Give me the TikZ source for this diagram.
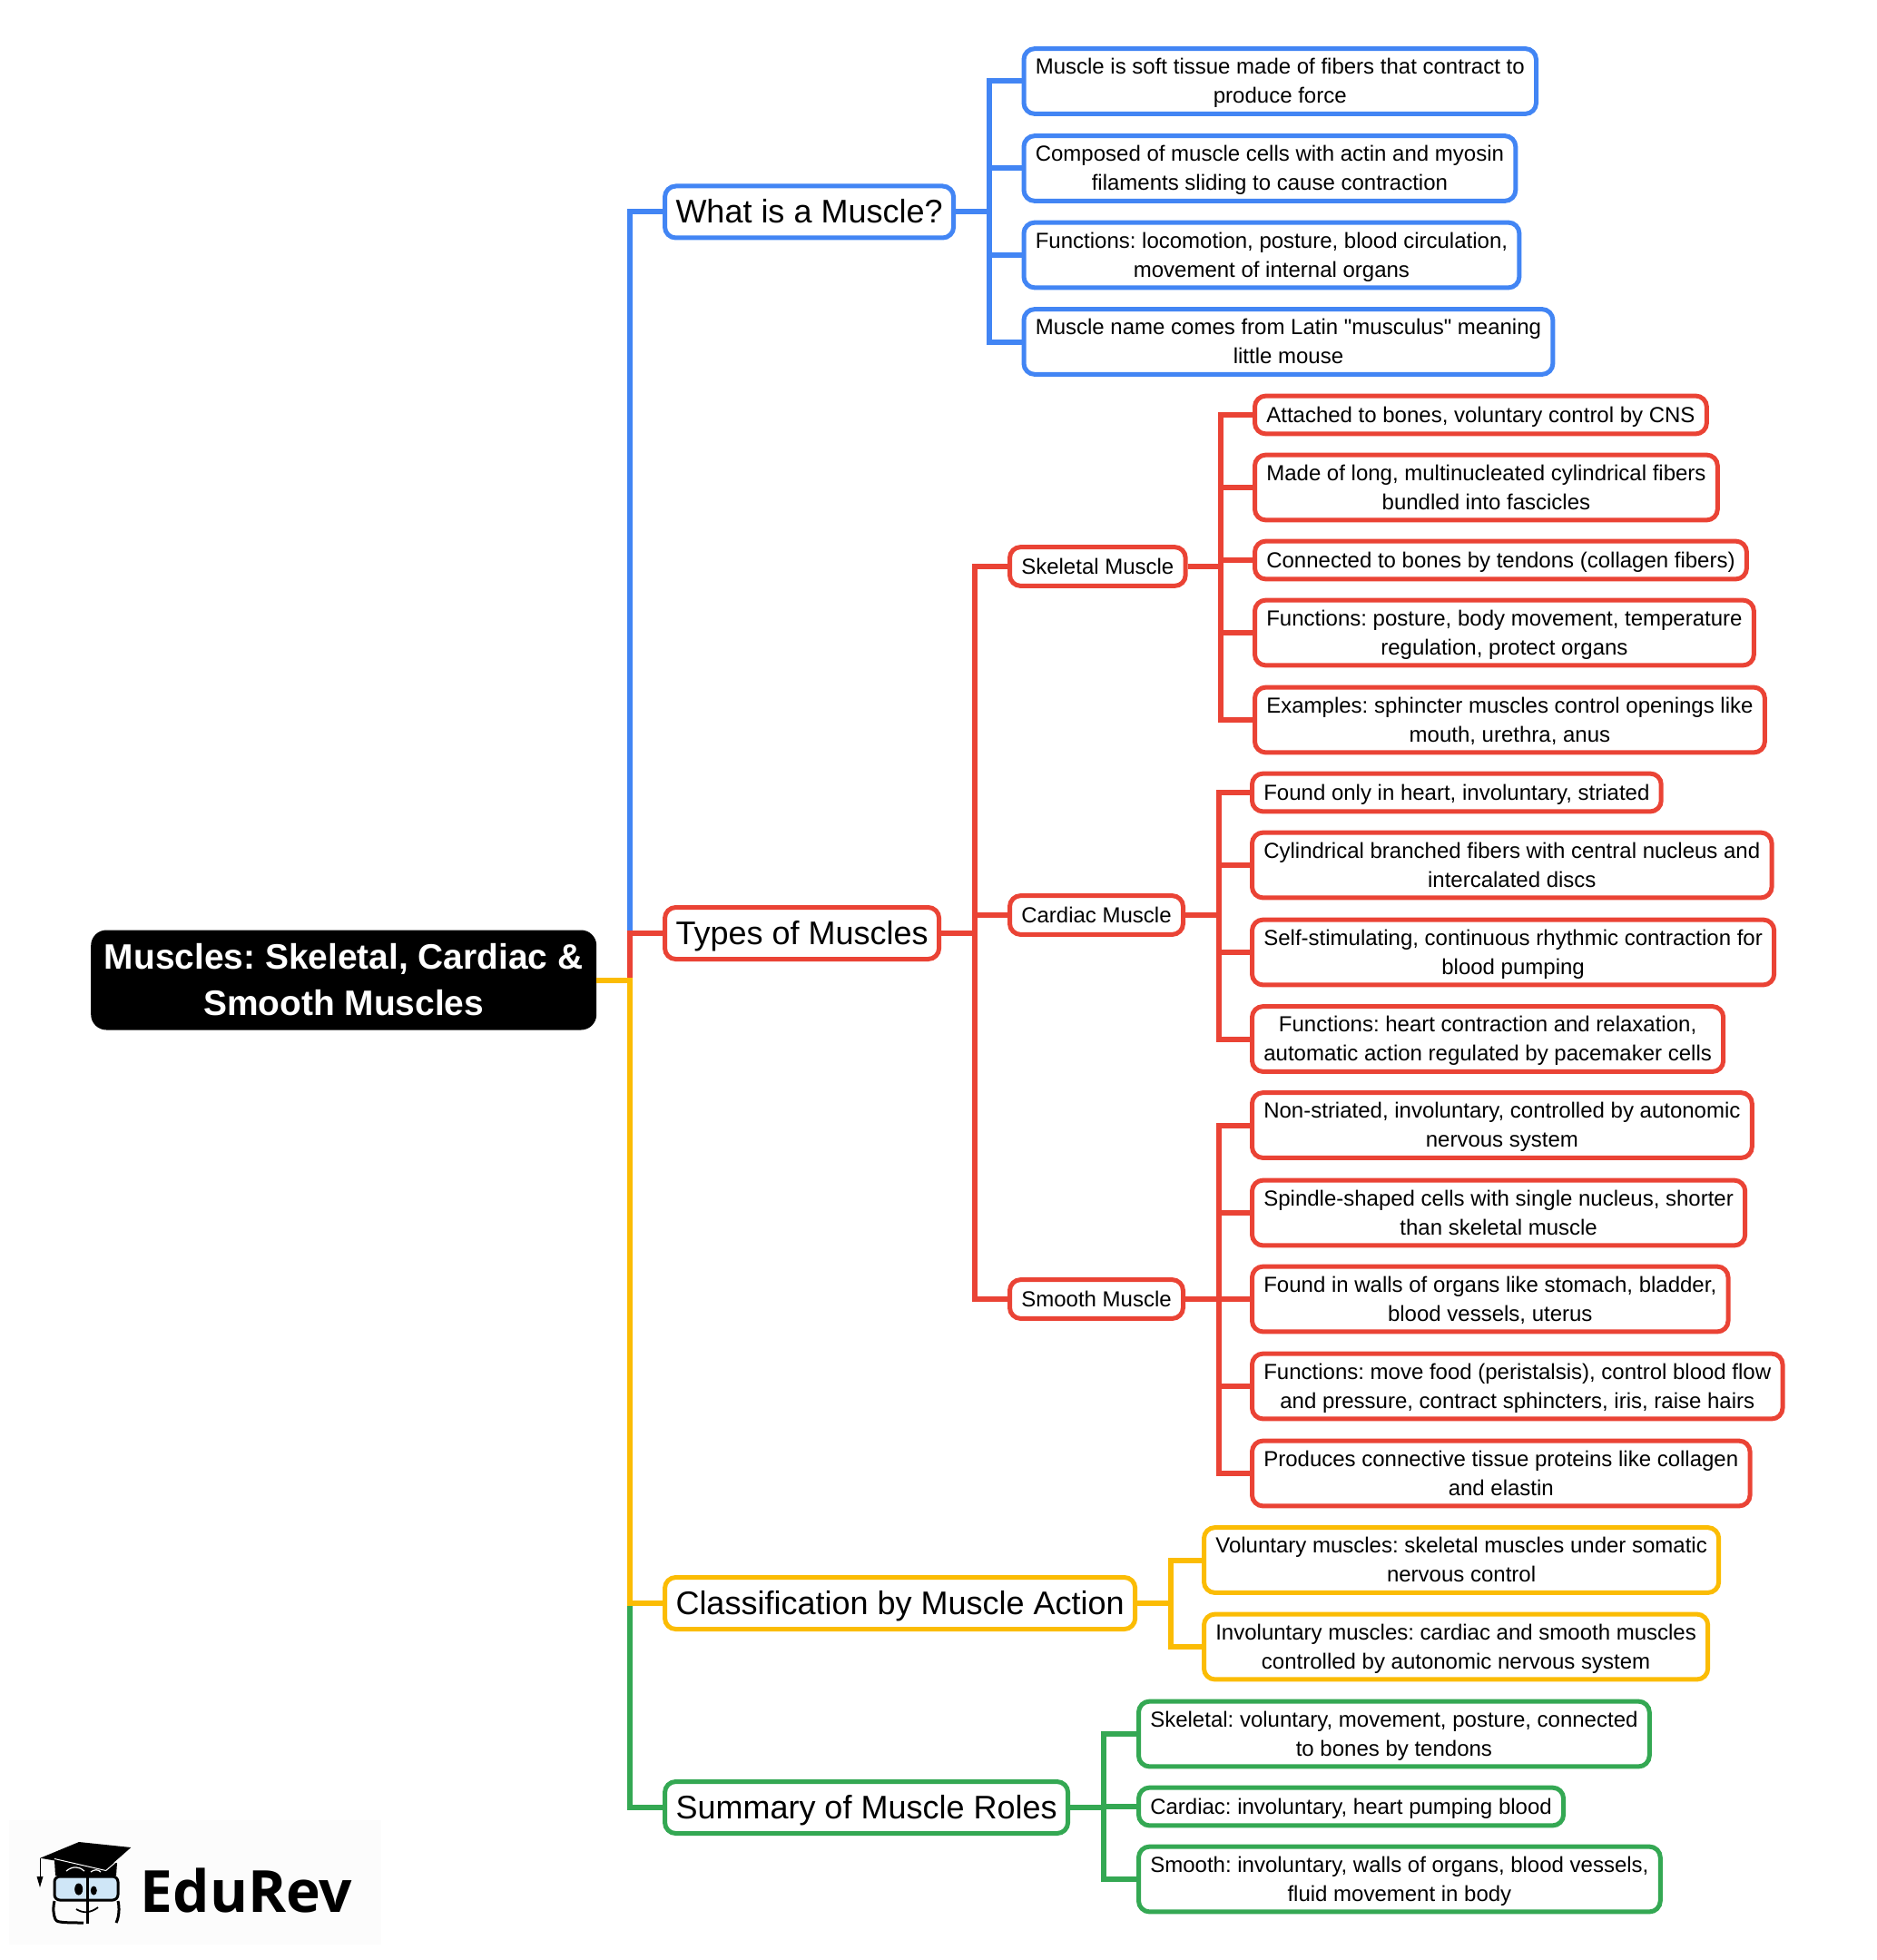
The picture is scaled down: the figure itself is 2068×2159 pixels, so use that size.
\documentclass[tikz,border=0pt]{standalone}
\usepackage{fontspec}
\setmainfont{Liberation Sans}[Ligatures=TeXOff]
\newfontfamily\logofont{Open Sans}
\usetikzlibrary{positioning}
\definecolor{mapblue}{HTML}{4285F4}
\definecolor{mapred}{HTML}{EA4335}
\definecolor{mapyellow}{HTML}{FBBC04}
\definecolor{mapgreen}{HTML}{34A853}
\definecolor{lens}{HTML}{CFE6F7}
\frenchspacing

\begin{document}
\begin{tikzpicture}[
    x=1pt,
    y=-1pt,
    box/.style={line width=5pt, rounded corners=12pt, fill=white, text=black, align=center, anchor=west},
    leaf/.style={box, font=\fontsize{24}{32}\selectfont, inner xsep=12.8pt, inner ysep=6pt, text height=54pt, text depth=5.8pt},
    oneline/.style={leaf, inner ysep=7pt, text height=22pt},
    small/.style={leaf, inner ysep=7.5pt, text height=22pt},
    branch/.style={box, font=\fontsize{36}{44}\selectfont, inner xsep=12pt, inner ysep=6pt, text height=34.6pt, text depth=10.4pt},
    elbow/.style={to path={-- ++(36.5,0) |- (\tikztotarget)}},
    link/.style={line width=6pt}
]
    \useasboundingbox (0,0) rectangle (2068,2159);
    \fill[black!1] (10,2005) rectangle (420,2142);

    \node[anchor=west, fill=black, rounded corners=17pt, text=white, align=center, font=\fontsize{38.9}{51}\selectfont\bfseries, minimum width=557pt, minimum height=110pt, inner sep=0pt] (root) at (100,1079.5) {Muscles: Skeletal, Cardiac \&\\Smooth Muscles};

    \node[branch, draw=mapblue] (what) at (730,233.5) {What is a Muscle?};
    \node[branch, draw=mapred] (types) at (730,1028) {Types of Muscles};
    \node[branch, draw=mapyellow] (class) at (730,1766) {Classification by Muscle Action};
    \node[branch, draw=mapgreen] (summary) at (730,1991) {Summary of Muscle Roles};

    \node[leaf, draw=mapblue] (w1) at (1125.5,89.5) {Muscle is soft tissue made of fibers that contract to\\produce force};
    \node[leaf, draw=mapblue] (w2) at (1125.5,185.5) {Composed of muscle cells with actin and myosin\\filaments sliding to cause contraction};
    \node[leaf, draw=mapblue] (w3) at (1125.5,281) {Functions: locomotion, posture, blood circulation,\\movement of internal organs};
    \node[leaf, draw=mapblue] (w4) at (1125.5,376.5) {Muscle name comes from Latin "musculus" meaning\\little mouse};

    \node[small, draw=mapred] (skeletal) at (1110,624) {Skeletal Muscle};
    \node[small, draw=mapred] (cardiac) at (1110,1008) {Cardiac Muscle};
    \node[small, draw=mapred] (smooth) at (1110,1431) {Smooth Muscle};

    \node[oneline, draw=mapred] (s1) at (1380,457) {Attached to bones, voluntary control by CNS};
    \node[leaf, draw=mapred] (s2) at (1380,537) {Made of long, multinucleated cylindrical fibers\\bundled into fascicles};
    \node[oneline, draw=mapred] (s3) at (1380,617) {Connected to bones by tendons (collagen fibers)};
    \node[leaf, draw=mapred] (s4) at (1380,697) {Functions: posture, body movement, temperature\\regulation, protect organs};
    \node[leaf, draw=mapred] (s5) at (1380,793) {Examples: sphincter muscles control openings like\\mouth, urethra, anus};

    \node[oneline, draw=mapred] (c1) at (1377,873) {Found only in heart, involuntary, striated};
    \node[leaf, draw=mapred] (c2) at (1377,953) {Cylindrical branched fibers with central nucleus and\\intercalated discs};
    \node[leaf, draw=mapred] (c3) at (1377,1049) {Self-stimulating, continuous rhythmic contraction for\\blood pumping};
    \node[leaf, draw=mapred] (c4) at (1377,1144.5) {Functions: heart contraction and relaxation,\\automatic action regulated by pacemaker cells};

    \node[leaf, draw=mapred] (m1) at (1377,1239.5) {Non-striated, involuntary, controlled by autonomic\\nervous system};
    \node[leaf, draw=mapred] (m2) at (1377,1336) {Spindle-shaped cells with single nucleus, shorter\\than skeletal muscle};
    \node[leaf, draw=mapred] (m3) at (1377,1431) {Found in walls of organs like stomach, bladder,\\blood vessels, uterus};
    \node[leaf, draw=mapred] (m4) at (1377,1527) {Functions: move food (peristalsis), control blood flow\\and pressure, contract sphincters, iris, raise hairs};
    \node[leaf, draw=mapred] (m5) at (1377,1623) {Produces connective tissue proteins like collagen\\and elastin};

    \node[leaf, draw=mapyellow] (a1) at (1324,1718.5) {Voluntary muscles: skeletal muscles under somatic\\nervous control};
    \node[leaf, draw=mapyellow] (a2) at (1324,1814) {Involuntary muscles: cardiac and smooth muscles\\controlled by autonomic nervous system};

    \node[leaf, draw=mapgreen] (b1) at (1252,1910) {Skeletal: voluntary, movement, posture, connected\\to bones by tendons};
    \node[oneline, draw=mapgreen] (b2) at (1252,1990) {Cardiac: involuntary, heart pumping blood};
    \node[leaf, draw=mapgreen] (b3) at (1252,2070) {Smooth: involuntary, walls of organs, blood vessels,\\fluid movement in body};

    \draw[link, mapblue] (root.east) to[elbow] (what.west);
    \draw[link, mapred] (root.east) to[elbow] (types.west);
    \draw[link, mapgreen] (root.east) to[elbow] (summary.west);
    \draw[link, mapyellow] (root.east) to[elbow] (class.west);

    \foreach \n in {w1,w2,w3,w4} \draw[link, mapblue] (what.east) to[elbow] (\n.west);
    \foreach \n in {skeletal,cardiac,smooth} \draw[link, mapred] (types.east) to[elbow] (\n.west);
    \foreach \n in {s1,s2,s3,s4,s5} \draw[link, mapred] (skeletal.east) to[elbow] (\n.west);
    \foreach \n in {c1,c2,c3,c4} \draw[link, mapred] (cardiac.east) to[elbow] (\n.west);
    \foreach \n in {m1,m2,m3,m4,m5} \draw[link, mapred] (smooth.east) to[elbow] (\n.west);
    \foreach \n in {a1,a2} \draw[link, mapyellow] (class.east) to[elbow] (\n.west);
    \foreach \n in {b1,b2,b3} \draw[link, mapgreen] (summary.east) to[elbow] (\n.west);

    \fill (60,2049) -- (61,2066) -- (128,2066) -- (129,2052) -- cycle;
    \fill (44.3,2046.7) -- (87,2029) -- (144.3,2035) -- (116.7,2059.3) -- cycle;
    \draw[white, line width=1pt] (60,2047.5) -- (116.7,2060.5) -- (130,2049);
    \draw[white, line width=1.2pt] (73,2061) .. controls (80,2055) and (88,2056) .. (93,2061);
    \draw[white, line width=1.2pt] (100,2062) .. controls (104,2059) and (108,2059) .. (111,2062);
    \draw[line width=1.5pt] (44.3,2046.7) -- (44.3,2068);
    \fill (40.5,2067) -- (47.5,2067) -- (44,2079) -- cycle;
    \draw[fill=lens, line width=3pt, rounded corners=6pt] (60,2067) rectangle (130,2093);
    \draw[line width=3pt] (60,2094) .. controls (58,2102) and (59,2110) .. (61,2114) .. controls (62,2117) and (65,2118) .. (92,2118);
    \draw[line width=3pt] (130,2094) .. controls (132,2102) and (131,2112) .. (128,2118);
    \draw[line width=3pt] (96,2066) -- (96,2119);
    \fill (86.7,2081) ellipse [x radius=4.5, y radius=6.5];
    \fill (103.3,2082.5) ellipse [x radius=3.5, y radius=5];
    \draw[line width=1.8pt] (84,2103) .. controls (92,2108) and (100,2107) .. (108,2101);
    \node[anchor=base west, inner sep=0pt, font=\fontsize{64}{64}\logofont\bfseries] (logo) at (154.5,2106) {EduRev};
\end{tikzpicture}
\end{document}
